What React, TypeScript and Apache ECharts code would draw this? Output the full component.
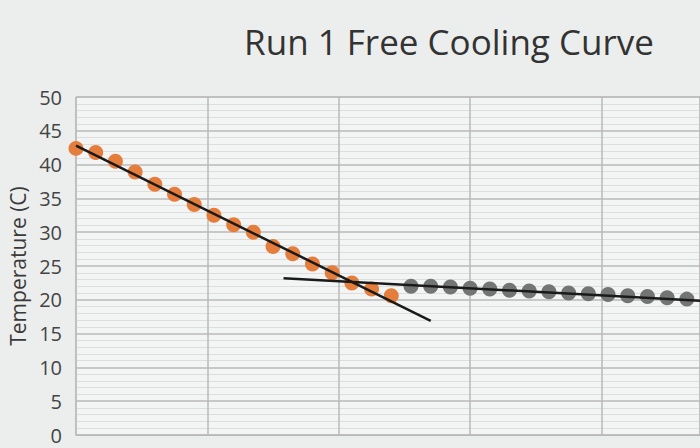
import React, { useEffect, useRef } from "react";
import * as echarts from "echarts";

const timeStep = 15;
const liquidTemps = [42.4, 41.8, 40.5, 38.9, 37.1, 35.6, 34.1, 32.5, 31.1, 30.0, 27.9, 26.8, 25.3, 24.0, 22.5, 21.6, 20.6];
const solidTemps = [22.0, 22.0, 21.9, 21.7, 21.6, 21.4, 21.3, 21.2, 21.0, 20.9, 20.8, 20.6, 20.5, 20.3, 20.1];
const trendLiquid: [number, number][] = [[0, 42.8], [270, 16.9]];
const trendSolid: [number, number][] = [[158, 23.2], [475, 19.85]];
const yTicks = [0, 5, 10, 15, 20, 25, 30, 35, 40, 45, 50];

export default function App() {
  const ref = useRef<HTMLDivElement>(null);
  useEffect(() => {
    if (!ref.current) return;
    const chart = echarts.init(ref.current, null, { renderer: "svg" });
    const liquid = liquidTemps.map((v, i) => [i * timeStep, v]);
    const solid = solidTemps.map((v, i) => [(liquidTemps.length + i) * timeStep, v]);
    chart.setOption({
      animation: false,
      backgroundColor: "#eceeed",
      title: {
        text: "Run 1 Free Cooling Curve",
        left: 444,
        top: 19,
        textAlign: "center",
        textStyle: { fontFamily: "Open Sans", fontSize: 35, fontWeight: "normal", color: "#333333" },
      },
      grid: {
        left: 76, top: 97, right: 0, bottom: 13, show: true, containLabel: false, outerBoundsMode: "none",
        backgroundColor: "#f3f5f4", borderColor: "#b8b8b8", borderWidth: 1,
      },
      xAxis: {
        type: "value",
        min: 0,
        max: 475,
        interval: 100,
        axisLabel: { show: false },
        axisTick: { show: false },
        axisLine: { show: true, lineStyle: { color: "#b8b8b8" } },
        splitLine: { show: true, lineStyle: { color: "#b8b8b8", width: 1.5 } },
      },
      yAxis: {
        type: "value",
        min: yTicks[0],
        max: yTicks[yTicks.length - 1],
        interval: 5,
        name: "Temperature (C)",
        nameLocation: "middle",
        nameGap: 46,
        nameTextStyle: { fontFamily: "Open Sans", fontSize: 21, color: "#3a3a3a" },
        axisLabel: { fontFamily: "Open Sans", fontSize: 20, color: "#444444", margin: 14 },
        axisTick: { show: false },
        axisLine: { show: false },
        splitLine: { show: true, lineStyle: { color: "#b8b8b8", width: 1.5 } },
        minorTick: { show: false, splitNumber: 5 },
        minorSplitLine: { show: true, lineStyle: { color: "#dcdedd", width: 1 } },
      },
      series: [
        { type: "scatter", data: liquid, symbolSize: 15, itemStyle: { color: "#e57d3c", opacity: 1 }, z: 2 },
        { type: "scatter", data: solid, symbolSize: 15, itemStyle: { color: "#737574", opacity: 1 }, z: 2 },
        { type: "line", data: trendLiquid, symbol: "none", lineStyle: { color: "#1a1a1a", width: 2.5 }, z: 3 },
        { type: "line", data: trendSolid, symbol: "none", lineStyle: { color: "#1a1a1a", width: 2.5 }, z: 3 },
      ],
    });
    return () => chart.dispose();
  }, []);
  return <div ref={ref} style={{ position: "fixed", left: 0, top: 0, width: 700, height: 448 }} />;
}
